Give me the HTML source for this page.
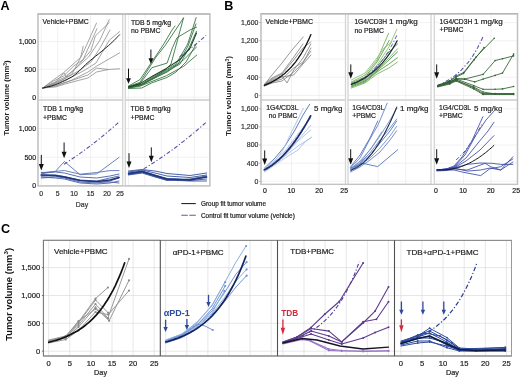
<!DOCTYPE html><html><head><meta charset="utf-8"><style>html,body{margin:0;padding:0;background:#fff;}svg{display:block;}</style></head><body>
<svg width="520" height="378" viewBox="0 0 520 378" font-family="'Liberation Sans', Arial, sans-serif">
<rect width="520" height="378" fill="#fff"/>
<text x="0.6" y="9.8" font-size="12.6" text-anchor="start" font-weight="bold" fill="#000" stroke="#000" stroke-width="0" >A</text>
<text x="224.2" y="9.7" font-size="12.6" text-anchor="start" font-weight="bold" fill="#000" stroke="#000" stroke-width="0" >B</text>
<text x="1.0" y="233.2" font-size="12.6" text-anchor="start" font-weight="bold" fill="#000" stroke="#000" stroke-width="0" >C</text>
<line x1="41.2" y1="14" x2="41.2" y2="100" stroke="#ebebeb" stroke-width="0.7"/>
<line x1="57.7" y1="14" x2="57.7" y2="100" stroke="#ebebeb" stroke-width="0.7"/>
<line x1="74.1" y1="14" x2="74.1" y2="100" stroke="#ebebeb" stroke-width="0.7"/>
<line x1="90.6" y1="14" x2="90.6" y2="100" stroke="#ebebeb" stroke-width="0.7"/>
<line x1="107.0" y1="14" x2="107.0" y2="100" stroke="#ebebeb" stroke-width="0.7"/>
<line x1="38" y1="97.2" x2="122.7" y2="97.2" stroke="#ebebeb" stroke-width="0.7"/>
<line x1="38" y1="69.3" x2="122.7" y2="69.3" stroke="#ebebeb" stroke-width="0.7"/>
<line x1="38" y1="41.5" x2="122.7" y2="41.5" stroke="#ebebeb" stroke-width="0.7"/>
<line x1="128.5" y1="14" x2="128.5" y2="100" stroke="#ebebeb" stroke-width="0.7"/>
<line x1="144.9" y1="14" x2="144.9" y2="100" stroke="#ebebeb" stroke-width="0.7"/>
<line x1="161.4" y1="14" x2="161.4" y2="100" stroke="#ebebeb" stroke-width="0.7"/>
<line x1="177.8" y1="14" x2="177.8" y2="100" stroke="#ebebeb" stroke-width="0.7"/>
<line x1="194.3" y1="14" x2="194.3" y2="100" stroke="#ebebeb" stroke-width="0.7"/>
<line x1="125.3" y1="97.2" x2="209.8" y2="97.2" stroke="#ebebeb" stroke-width="0.7"/>
<line x1="125.3" y1="69.3" x2="209.8" y2="69.3" stroke="#ebebeb" stroke-width="0.7"/>
<line x1="125.3" y1="41.5" x2="209.8" y2="41.5" stroke="#ebebeb" stroke-width="0.7"/>
<line x1="41.2" y1="100" x2="41.2" y2="185.9" stroke="#ebebeb" stroke-width="0.7"/>
<line x1="57.7" y1="100" x2="57.7" y2="185.9" stroke="#ebebeb" stroke-width="0.7"/>
<line x1="74.1" y1="100" x2="74.1" y2="185.9" stroke="#ebebeb" stroke-width="0.7"/>
<line x1="90.6" y1="100" x2="90.6" y2="185.9" stroke="#ebebeb" stroke-width="0.7"/>
<line x1="107.0" y1="100" x2="107.0" y2="185.9" stroke="#ebebeb" stroke-width="0.7"/>
<line x1="38" y1="157.2" x2="122.7" y2="157.2" stroke="#ebebeb" stroke-width="0.7"/>
<line x1="38" y1="128.5" x2="122.7" y2="128.5" stroke="#ebebeb" stroke-width="0.7"/>
<line x1="128.5" y1="100" x2="128.5" y2="185.9" stroke="#ebebeb" stroke-width="0.7"/>
<line x1="144.9" y1="100" x2="144.9" y2="185.9" stroke="#ebebeb" stroke-width="0.7"/>
<line x1="161.4" y1="100" x2="161.4" y2="185.9" stroke="#ebebeb" stroke-width="0.7"/>
<line x1="177.8" y1="100" x2="177.8" y2="185.9" stroke="#ebebeb" stroke-width="0.7"/>
<line x1="194.3" y1="100" x2="194.3" y2="185.9" stroke="#ebebeb" stroke-width="0.7"/>
<line x1="125.3" y1="157.2" x2="209.8" y2="157.2" stroke="#ebebeb" stroke-width="0.7"/>
<line x1="125.3" y1="128.5" x2="209.8" y2="128.5" stroke="#ebebeb" stroke-width="0.7"/>
<rect x="38" y="14" width="84.7" height="86" fill="none" stroke="#d4d4d4" stroke-width="1.3"/>
<rect x="125.3" y="14" width="84.50000000000001" height="86" fill="none" stroke="#d4d4d4" stroke-width="1.3"/>
<rect x="38" y="100" width="84.7" height="85.9" fill="none" stroke="#d4d4d4" stroke-width="1.3"/>
<rect x="125.3" y="100" width="84.50000000000001" height="85.9" fill="none" stroke="#d4d4d4" stroke-width="1.3"/>
<line x1="37.4" y1="14" x2="210.4" y2="14" stroke="#b4b4b4" stroke-width="1.4"/>
<line x1="38" y1="14" x2="38" y2="185.9" stroke="#c4c4c4" stroke-width="1.4"/>
<line x1="37.4" y1="185.9" x2="210.4" y2="185.9" stroke="#c4c4c4" stroke-width="1.4"/>
<line x1="209.8" y1="14" x2="209.8" y2="185.9" stroke="#c2c2c2" stroke-width="1.4"/>
<text x="36.0" y="99.60000000000001" font-size="6.9" text-anchor="end" font-weight="normal" fill="#222" stroke="#222" stroke-width="0.2" >0</text>
<text x="36.0" y="71.75" font-size="6.9" text-anchor="end" font-weight="normal" fill="#222" stroke="#222" stroke-width="0.2" >500</text>
<text x="36.0" y="43.9" font-size="6.9" text-anchor="end" font-weight="normal" fill="#222" stroke="#222" stroke-width="0.2" >1,000</text>
<text x="36.0" y="188.4" font-size="6.9" text-anchor="end" font-weight="normal" fill="#222" stroke="#222" stroke-width="0.2" >0</text>
<text x="36.0" y="159.65" font-size="6.9" text-anchor="end" font-weight="normal" fill="#222" stroke="#222" stroke-width="0.2" >500</text>
<text x="36.0" y="130.9" font-size="6.9" text-anchor="end" font-weight="normal" fill="#222" stroke="#222" stroke-width="0.2" >1,000</text>
<text x="41.2" y="196.2" font-size="6.9" text-anchor="middle" font-weight="normal" fill="#333" stroke="#333" stroke-width="0.2" >0</text>
<text x="57.650000000000006" y="196.2" font-size="6.9" text-anchor="middle" font-weight="normal" fill="#333" stroke="#333" stroke-width="0.2" >5</text>
<text x="74.1" y="196.2" font-size="6.9" text-anchor="middle" font-weight="normal" fill="#333" stroke="#333" stroke-width="0.2" >10</text>
<text x="90.55000000000001" y="196.2" font-size="6.9" text-anchor="middle" font-weight="normal" fill="#333" stroke="#333" stroke-width="0.2" >15</text>
<text x="107.0" y="196.2" font-size="6.9" text-anchor="middle" font-weight="normal" fill="#333" stroke="#333" stroke-width="0.2" >20</text>
<text x="120.0" y="196.2" font-size="6.9" text-anchor="middle" font-weight="normal" fill="#333" stroke="#333" stroke-width="0.2" >25</text>
<text x="82" y="206.6" font-size="6.9" text-anchor="middle" font-weight="normal" fill="#333" stroke="#333" stroke-width="0.2" >Day</text>
<text transform="translate(9.3,98) rotate(-90)" font-size="7.6" font-weight="bold" text-anchor="middle" fill="#222">Tumor volume (mm<tspan font-size="5" dy="-2.6">3</tspan><tspan dy="2.6">)</tspan></text>
<rect x="41.8" y="19.0" width="47.8" height="6.9" fill="#fff"/>
<text x="42.6" y="24.4" font-size="6.9" text-anchor="start" font-weight="normal" fill="#222" stroke="#222" stroke-width="0.2" >Vehicle+PBMC</text>
<rect x="130.1" y="19.2" width="41.9" height="6.9" fill="#fff"/>
<text x="130.9" y="24.6" font-size="6.9" text-anchor="start" font-weight="normal" fill="#222" stroke="#222" stroke-width="0.2" >TDB 5 mg/kg</text>
<rect x="130.1" y="27.2" width="31.1" height="6.9" fill="#fff"/>
<text x="130.9" y="32.6" font-size="6.9" text-anchor="start" font-weight="normal" fill="#222" stroke="#222" stroke-width="0.2" >no PBMC</text>
<rect x="42.2" y="105.4" width="41.9" height="6.9" fill="#fff"/>
<text x="43.0" y="110.8" font-size="6.9" text-anchor="start" font-weight="normal" fill="#222" stroke="#222" stroke-width="0.2" >TDB 1 mg/kg</text>
<rect x="42.2" y="114.8" width="25.6" height="6.9" fill="#fff"/>
<text x="43.0" y="120.2" font-size="6.9" text-anchor="start" font-weight="normal" fill="#222" stroke="#222" stroke-width="0.2" >+PBMC</text>
<rect x="129.7" y="105.4" width="41.9" height="6.9" fill="#fff"/>
<text x="130.5" y="110.8" font-size="6.9" text-anchor="start" font-weight="normal" fill="#222" stroke="#222" stroke-width="0.2" >TDB 5 mg/kg</text>
<rect x="129.7" y="114.4" width="25.6" height="6.9" fill="#fff"/>
<text x="130.5" y="119.8" font-size="6.9" text-anchor="start" font-weight="normal" fill="#222" stroke="#222" stroke-width="0.2" >+PBMC</text>
<polyline points="42.8,87.9 53.5,79.8 63.6,72.6 80.9,57.1 84.4,50.0 96.5,23.0" fill="none" stroke="#8e8e8e" stroke-width="0.8" stroke-linejoin="round" stroke-linecap="round" />
<polyline points="42.8,87.9 53.5,81.0 63.6,76.0 73.7,66.0 83.1,59.6 97.0,28.6" fill="none" stroke="#8e8e8e" stroke-width="0.8" stroke-linejoin="round" stroke-linecap="round" />
<polyline points="42.8,88.0 55.0,82.0 65.0,77.0 75.0,69.0 88.6,57.0 100.0,40.0 109.3,19.5" fill="none" stroke="#8e8e8e" stroke-width="0.8" stroke-linejoin="round" stroke-linecap="round" />
<polyline points="42.8,88.0 55.0,83.0 62.0,75.0 64.5,73.0 66.0,77.0 76.0,68.0 91.0,50.5 95.3,36.0 109.3,22.5" fill="none" stroke="#8e8e8e" stroke-width="0.8" stroke-linejoin="round" stroke-linecap="round" />
<polyline points="42.8,88.0 55.0,83.5 68.0,77.0 80.0,70.0 91.0,62.0 100.0,48.0 110.0,30.0" fill="none" stroke="#8e8e8e" stroke-width="0.8" stroke-linejoin="round" stroke-linecap="round" />
<polyline points="42.8,88.0 55.0,84.0 70.0,78.0 85.0,70.0 96.0,63.0 109.3,40.2 119.6,31.6" fill="none" stroke="#8e8e8e" stroke-width="0.8" stroke-linejoin="round" stroke-linecap="round" />
<polyline points="42.8,88.0 55.9,85.5 72.0,80.0 88.0,72.0 96.5,66.2 119.6,52.9" fill="none" stroke="#8e8e8e" stroke-width="0.8" stroke-linejoin="round" stroke-linecap="round" />
<polyline points="42.8,88.0 55.9,86.9 65.4,83.9 80.0,80.0 88.0,78.0 96.5,72.0 108.4,69.5 119.6,68.8" fill="none" stroke="#8e8e8e" stroke-width="0.8" stroke-linejoin="round" stroke-linecap="round" />
<polyline points="42.8,88.0 55.9,86.0 70.0,81.0 88.0,75.0 96.5,68.1 108.4,69.5" fill="none" stroke="#8e8e8e" stroke-width="0.8" stroke-linejoin="round" stroke-linecap="round" />
<polyline points="42.8,88.0 52.0,84.0 62.0,80.0 72.0,74.0 80.6,57.6 83.2,46.3" fill="none" stroke="#8e8e8e" stroke-width="0.8" stroke-linejoin="round" stroke-linecap="round" />
<polyline points="42.8,88.0 43.8,87.8 45.0,87.5 46.5,87.2 48.2,86.8 50.1,86.4 52.0,85.8 53.9,85.2 55.9,84.5 57.9,83.7 60.1,82.8 62.4,81.7 64.7,80.7 67.1,79.5 69.4,78.2 71.6,77.0 73.7,75.6 75.6,74.2 77.4,72.7 79.1,71.2 80.7,69.5 82.3,67.9 84.1,66.1 85.9,64.3 88.0,62.5 90.3,60.5 92.9,58.4 95.6,56.2 98.4,54.0 101.2,51.7 103.8,49.6 106.2,47.5 108.4,45.7 110.3,44.0 112.1,42.3 113.8,40.7 115.3,39.2 116.6,37.8 117.8,36.5 118.8,35.5 119.6,34.7" fill="none" stroke="#111" stroke-width="0.95" stroke-linejoin="round" stroke-linecap="round" />
<polyline points="179.5,56.9 180.2,56.4 180.8,55.9 181.5,55.4 182.2,54.9 182.8,54.4 183.5,53.9 184.2,53.4 184.8,52.9 185.5,52.4 186.2,51.9 186.8,51.3 187.5,50.8 188.2,50.3 188.8,49.8 189.5,49.3 190.2,48.7 190.8,48.2 191.5,47.7 192.2,47.1 192.8,46.6 193.5,46.1 194.2,45.5 194.8,45.0 195.5,44.4 196.2,43.9 196.8,43.3 197.5,42.8 198.1,42.2 198.8,41.7 199.5,41.1 200.1,40.6 200.8,40.0 201.5,39.4 202.1,38.9 202.8,38.3 203.5,37.7 204.1,37.2 204.8,36.6 205.5,36.0 206.1,35.4" fill="none" stroke="#5656a6" stroke-width="1.1" stroke-linejoin="round" stroke-linecap="butt" stroke-dasharray="4,2,1.2,2"/>
<polyline points="128.5,86.5 140.0,82.3 155.9,57.2 165.0,45.7 183.5,18.0" fill="none" stroke="#2f6f3c" stroke-width="0.85" stroke-linejoin="round" stroke-linecap="round" />
<polyline points="128.5,86.0 140.0,79.6 153.2,59.8 163.8,44.0 172.0,30.0 175.0,26.0" fill="none" stroke="#2f6f3c" stroke-width="0.85" stroke-linejoin="round" stroke-linecap="round" />
<polyline points="128.5,87.0 140.0,83.6 151.9,67.7 167.1,63.1 172.4,47.9 176.9,37.8 190.1,29.9 196.5,27.2" fill="none" stroke="#2f6f3c" stroke-width="0.85" stroke-linejoin="round" stroke-linecap="round" />
<polyline points="128.5,87.5 141.7,85.0 155.0,77.0 165.0,70.0 171.0,64.0 183.5,18.0" fill="none" stroke="#2f6f3c" stroke-width="0.85" stroke-linejoin="round" stroke-linecap="round" />
<polyline points="128.5,87.0 141.7,84.0 153.0,77.0 166.0,70.0 176.0,64.0 187.7,44.0 196.2,17.6" fill="none" stroke="#2f6f3c" stroke-width="0.85" stroke-linejoin="round" stroke-linecap="round" />
<polyline points="128.5,87.5 141.7,84.5 153.0,78.0 166.0,71.0 178.0,64.0 188.0,46.0 196.0,23.9" fill="none" stroke="#2f6f3c" stroke-width="0.85" stroke-linejoin="round" stroke-linecap="round" />
<polyline points="128.5,88.0 141.7,85.0 153.0,79.0 166.0,72.0 180.0,64.0 189.0,48.0 196.5,31.2" fill="none" stroke="#2f6f3c" stroke-width="0.85" stroke-linejoin="round" stroke-linecap="round" />
<polyline points="128.5,88.0 140.0,86.2 166.4,75.7 183.6,66.4 196.8,55.0" fill="none" stroke="#2f6f3c" stroke-width="0.85" stroke-linejoin="round" stroke-linecap="round" />
<polyline points="128.5,87.5 140.0,85.0 167.7,71.7 183.6,59.8 196.5,47.1" fill="none" stroke="#2f6f3c" stroke-width="0.85" stroke-linejoin="round" stroke-linecap="round" />
<polyline points="128.5,88.5 141.7,88.0 151.5,83.0 167.1,77.4 176.0,72.0 186.0,62.0 196.0,44.4" fill="none" stroke="#2f6f3c" stroke-width="0.85" stroke-linejoin="round" stroke-linecap="round" />
<polyline points="128.5,87.0 140.0,83.6 153.2,75.7 166.4,68.4 179.6,59.8 190.2,47.9 196.5,33.0" fill="none" stroke="#1d4424" stroke-width="1.1" stroke-linejoin="round" stroke-linecap="round" />
<line x1="128.5" y1="68.6" x2="128.5" y2="78.7" stroke="#111" stroke-width="1.0"/>
<polygon points="126.1,78.2 130.9,78.2 128.5,83.7" fill="#111"/>
<line x1="150.9" y1="49.5" x2="150.9" y2="58.8" stroke="#111" stroke-width="1.0"/>
<polygon points="148.5,58.3 153.3,58.3 150.9,63.8" fill="#111"/>
<polyline points="41.3,173.9 55.4,171.4 64.4,161.5 80.1,174.7 96.7,173.9 119.0,157.4" fill="none" stroke="#5a74b4" stroke-width="0.9" stroke-linejoin="round" stroke-linecap="round" />
<polyline points="41.3,173.0 55.4,171.4 64.4,170.5 80.1,174.2 96.7,172.5 109.9,170.6 119.0,170.6" fill="none" stroke="#5a74b4" stroke-width="0.9" stroke-linejoin="round" stroke-linecap="round" />
<polyline points="41.3,172.5 55.4,172.0 64.4,173.0 80.1,177.0 96.7,178.0 109.9,176.0 119.0,174.0" fill="none" stroke="#4862a8" stroke-width="0.9" stroke-linejoin="round" stroke-linecap="round" />
<polyline points="41.3,175.0 55.4,175.0 64.4,176.5 80.1,180.0 96.7,181.0 109.9,178.0 119.0,176.0" fill="none" stroke="#4862a8" stroke-width="0.9" stroke-linejoin="round" stroke-linecap="round" />
<polyline points="41.3,176.0 55.4,176.0 64.4,178.0 80.1,182.0 96.7,183.0 109.9,181.0 119.0,178.0" fill="none" stroke="#4862a8" stroke-width="0.9" stroke-linejoin="round" stroke-linecap="round" />
<polyline points="41.3,177.0 55.4,178.0 64.4,179.0 80.1,183.0 96.7,184.0 109.9,183.0 119.0,181.0" fill="none" stroke="#4862a8" stroke-width="0.9" stroke-linejoin="round" stroke-linecap="round" />
<polyline points="41.3,178.0 55.4,177.0 64.4,177.0 80.1,180.5 96.7,182.0 109.9,182.0 119.0,183.0" fill="none" stroke="#4862a8" stroke-width="0.9" stroke-linejoin="round" stroke-linecap="round" />
<polyline points="41.3,175.0 55.4,175.5 64.4,177.0 80.1,180.5 96.7,181.5 109.9,180.0 119.0,177.5" fill="none" stroke="#1f3577" stroke-width="1.7" stroke-linejoin="round" stroke-linecap="round" />
<polyline points="63.9,164.2 65.3,163.4 66.7,162.5 68.1,161.5 69.5,160.6 70.9,159.7 72.3,158.8 73.7,157.8 75.1,156.9 76.5,155.9 77.9,154.9 79.3,153.9 80.7,152.9 82.1,151.9 83.5,150.9 84.9,149.9 86.3,148.9 87.7,147.8 89.1,146.8 90.5,145.7 91.9,144.7 93.3,143.6 94.7,142.5 96.1,141.4 97.5,140.3 98.9,139.2 100.3,138.1 101.7,136.9 103.1,135.8 104.5,134.6 105.8,133.5 107.2,132.3 108.6,131.1 110.0,129.9 111.4,128.8 112.8,127.5 114.2,126.3 115.6,125.1 117.0,123.9 118.4,122.6 119.8,121.4" fill="none" stroke="#5656a6" stroke-width="1.1" stroke-linejoin="round" stroke-linecap="butt" stroke-dasharray="4,2,1.2,2"/>
<line x1="41.3" y1="154.9" x2="41.3" y2="164.6" stroke="#111" stroke-width="1.0"/>
<polygon points="38.8,164.1 43.8,164.1 41.3,170.6" fill="#111"/>
<line x1="64.1" y1="142.5" x2="64.1" y2="152.2" stroke="#111" stroke-width="1.0"/>
<polygon points="61.599999999999994,151.7 66.6,151.7 64.1,158.2" fill="#111"/>
<polyline points="128.5,171.0 142.2,169.5 155.0,171.0 167.0,173.5 190.0,175.5 206.6,173.0" fill="none" stroke="#3550a0" stroke-width="0.9" stroke-linejoin="round" stroke-linecap="round" />
<polyline points="128.5,172.0 142.2,170.0 155.0,173.0 167.0,176.0 190.0,177.5 206.6,175.0" fill="none" stroke="#3550a0" stroke-width="0.9" stroke-linejoin="round" stroke-linecap="round" />
<polyline points="128.5,173.0 142.2,171.0 155.0,175.0 167.0,178.5 190.0,179.5 206.6,177.0" fill="none" stroke="#3550a0" stroke-width="0.9" stroke-linejoin="round" stroke-linecap="round" />
<polyline points="128.5,174.0 142.2,172.0 155.0,176.0 167.0,179.5 190.0,180.5 206.6,179.0" fill="none" stroke="#3550a0" stroke-width="0.9" stroke-linejoin="round" stroke-linecap="round" />
<polyline points="128.5,175.0 142.2,173.0 155.0,177.0 167.0,180.0 190.0,181.0 206.6,181.0" fill="none" stroke="#3550a0" stroke-width="0.9" stroke-linejoin="round" stroke-linecap="round" />
<polyline points="128.5,174.5 142.2,172.5 155.0,176.5 167.0,180.5 190.0,179.0 206.6,176.0" fill="none" stroke="#3550a0" stroke-width="0.9" stroke-linejoin="round" stroke-linecap="round" />
<polyline points="128.5,173.5 142.2,171.5 155.0,175.5 167.0,179.0 190.0,180.0 206.6,177.0" fill="none" stroke="#1f3577" stroke-width="1.6" stroke-linejoin="round" stroke-linecap="round" />
<polyline points="143.6,168.9 145.2,167.9 146.8,167.0 148.4,166.0 150.0,165.0 151.5,164.0 153.1,163.0 154.7,162.0 156.3,161.0 157.8,159.9 159.4,158.9 161.0,157.8 162.6,156.7 164.2,155.6 165.7,154.5 167.3,153.4 168.9,152.3 170.5,151.2 172.1,150.0 173.6,148.8 175.2,147.7 176.8,146.5 178.4,145.3 180.0,144.1 181.5,142.8 183.1,141.6 184.7,140.4 186.3,139.1 187.9,137.8 189.4,136.6 191.0,135.3 192.6,134.0 194.2,132.6 195.7,131.3 197.3,130.0 198.9,128.6 200.5,127.2 202.1,125.9 203.6,124.5 205.2,123.1 206.8,121.7" fill="none" stroke="#5656a6" stroke-width="1.1" stroke-linejoin="round" stroke-linecap="butt" stroke-dasharray="4,2,1.2,2"/>
<line x1="129.0" y1="153.2" x2="129.0" y2="162.1" stroke="#111" stroke-width="1.0"/>
<polygon points="126.5,161.6 131.5,161.6 129.0,168.1" fill="#111"/>
<line x1="151.3" y1="147.4" x2="151.3" y2="156.3" stroke="#111" stroke-width="1.0"/>
<polygon points="148.8,155.8 153.8,155.8 151.3,162.3" fill="#111"/>
<line x1="291.5" y1="13.8" x2="291.5" y2="100" stroke="#ebebeb" stroke-width="0.7"/>
<line x1="319.0" y1="13.8" x2="319.0" y2="100" stroke="#ebebeb" stroke-width="0.7"/>
<line x1="261" y1="95.4" x2="345.5" y2="95.4" stroke="#ebebeb" stroke-width="0.7"/>
<line x1="261" y1="77.2" x2="345.5" y2="77.2" stroke="#ebebeb" stroke-width="0.7"/>
<line x1="261" y1="59.0" x2="345.5" y2="59.0" stroke="#ebebeb" stroke-width="0.7"/>
<line x1="261" y1="40.8" x2="345.5" y2="40.8" stroke="#ebebeb" stroke-width="0.7"/>
<line x1="261" y1="22.6" x2="345.5" y2="22.6" stroke="#ebebeb" stroke-width="0.7"/>
<line x1="378.2" y1="13.8" x2="378.2" y2="100" stroke="#ebebeb" stroke-width="0.7"/>
<line x1="405.7" y1="13.8" x2="405.7" y2="100" stroke="#ebebeb" stroke-width="0.7"/>
<line x1="348" y1="95.4" x2="431" y2="95.4" stroke="#ebebeb" stroke-width="0.7"/>
<line x1="348" y1="77.2" x2="431" y2="77.2" stroke="#ebebeb" stroke-width="0.7"/>
<line x1="348" y1="59.0" x2="431" y2="59.0" stroke="#ebebeb" stroke-width="0.7"/>
<line x1="348" y1="40.8" x2="431" y2="40.8" stroke="#ebebeb" stroke-width="0.7"/>
<line x1="348" y1="22.6" x2="431" y2="22.6" stroke="#ebebeb" stroke-width="0.7"/>
<line x1="463.5" y1="13.8" x2="463.5" y2="100" stroke="#ebebeb" stroke-width="0.7"/>
<line x1="491.0" y1="13.8" x2="491.0" y2="100" stroke="#ebebeb" stroke-width="0.7"/>
<line x1="434.3" y1="95.4" x2="517.5" y2="95.4" stroke="#ebebeb" stroke-width="0.7"/>
<line x1="434.3" y1="77.2" x2="517.5" y2="77.2" stroke="#ebebeb" stroke-width="0.7"/>
<line x1="434.3" y1="59.0" x2="517.5" y2="59.0" stroke="#ebebeb" stroke-width="0.7"/>
<line x1="434.3" y1="40.8" x2="517.5" y2="40.8" stroke="#ebebeb" stroke-width="0.7"/>
<line x1="434.3" y1="22.6" x2="517.5" y2="22.6" stroke="#ebebeb" stroke-width="0.7"/>
<line x1="291.5" y1="100" x2="291.5" y2="184.4" stroke="#ebebeb" stroke-width="0.7"/>
<line x1="319.0" y1="100" x2="319.0" y2="184.4" stroke="#ebebeb" stroke-width="0.7"/>
<line x1="261" y1="181.3" x2="345.5" y2="181.3" stroke="#ebebeb" stroke-width="0.7"/>
<line x1="261" y1="163.2" x2="345.5" y2="163.2" stroke="#ebebeb" stroke-width="0.7"/>
<line x1="261" y1="145.1" x2="345.5" y2="145.1" stroke="#ebebeb" stroke-width="0.7"/>
<line x1="261" y1="126.9" x2="345.5" y2="126.9" stroke="#ebebeb" stroke-width="0.7"/>
<line x1="261" y1="108.8" x2="345.5" y2="108.8" stroke="#ebebeb" stroke-width="0.7"/>
<line x1="378.2" y1="100" x2="378.2" y2="184.4" stroke="#ebebeb" stroke-width="0.7"/>
<line x1="405.7" y1="100" x2="405.7" y2="184.4" stroke="#ebebeb" stroke-width="0.7"/>
<line x1="348" y1="181.3" x2="431" y2="181.3" stroke="#ebebeb" stroke-width="0.7"/>
<line x1="348" y1="163.2" x2="431" y2="163.2" stroke="#ebebeb" stroke-width="0.7"/>
<line x1="348" y1="145.1" x2="431" y2="145.1" stroke="#ebebeb" stroke-width="0.7"/>
<line x1="348" y1="126.9" x2="431" y2="126.9" stroke="#ebebeb" stroke-width="0.7"/>
<line x1="348" y1="108.8" x2="431" y2="108.8" stroke="#ebebeb" stroke-width="0.7"/>
<line x1="463.5" y1="100" x2="463.5" y2="184.4" stroke="#ebebeb" stroke-width="0.7"/>
<line x1="491.0" y1="100" x2="491.0" y2="184.4" stroke="#ebebeb" stroke-width="0.7"/>
<line x1="434.3" y1="181.3" x2="517.5" y2="181.3" stroke="#ebebeb" stroke-width="0.7"/>
<line x1="434.3" y1="163.2" x2="517.5" y2="163.2" stroke="#ebebeb" stroke-width="0.7"/>
<line x1="434.3" y1="145.1" x2="517.5" y2="145.1" stroke="#ebebeb" stroke-width="0.7"/>
<line x1="434.3" y1="126.9" x2="517.5" y2="126.9" stroke="#ebebeb" stroke-width="0.7"/>
<line x1="434.3" y1="108.8" x2="517.5" y2="108.8" stroke="#ebebeb" stroke-width="0.7"/>
<rect x="261" y="13.8" width="84.5" height="86.2" fill="none" stroke="#d4d4d4" stroke-width="1.3"/>
<rect x="348" y="13.8" width="83" height="86.2" fill="none" stroke="#d4d4d4" stroke-width="1.3"/>
<rect x="434.3" y="13.8" width="83.19999999999999" height="86.2" fill="none" stroke="#d4d4d4" stroke-width="1.3"/>
<rect x="261" y="100" width="84.5" height="84.4" fill="none" stroke="#d4d4d4" stroke-width="1.3"/>
<rect x="348" y="100" width="83" height="84.4" fill="none" stroke="#d4d4d4" stroke-width="1.3"/>
<rect x="434.3" y="100" width="83.19999999999999" height="84.4" fill="none" stroke="#d4d4d4" stroke-width="1.3"/>
<line x1="260.4" y1="13.8" x2="518.1" y2="13.8" stroke="#b4b4b4" stroke-width="1.4"/>
<line x1="261" y1="13.8" x2="261" y2="184.4" stroke="#c4c4c4" stroke-width="1.4"/>
<line x1="260.4" y1="184.4" x2="518.1" y2="184.4" stroke="#c4c4c4" stroke-width="1.4"/>
<line x1="517.5" y1="13.8" x2="517.5" y2="184.4" stroke="#c2c2c2" stroke-width="1.4"/>
<text x="258.3" y="97.80000000000001" font-size="6.9" text-anchor="end" font-weight="normal" fill="#333" stroke="#333" stroke-width="0.2" >0</text>
<line x1="259" y1="95.4" x2="261" y2="95.4" stroke="#999" stroke-width="0.6"/>
<text x="258.3" y="79.60000000000001" font-size="6.9" text-anchor="end" font-weight="normal" fill="#333" stroke="#333" stroke-width="0.2" >400</text>
<line x1="259" y1="77.2" x2="261" y2="77.2" stroke="#999" stroke-width="0.6"/>
<text x="258.3" y="61.400000000000006" font-size="6.9" text-anchor="end" font-weight="normal" fill="#333" stroke="#333" stroke-width="0.2" >800</text>
<line x1="259" y1="59.0" x2="261" y2="59.0" stroke="#999" stroke-width="0.6"/>
<text x="258.3" y="43.2" font-size="6.9" text-anchor="end" font-weight="normal" fill="#333" stroke="#333" stroke-width="0.2" >1,200</text>
<line x1="259" y1="40.8" x2="261" y2="40.8" stroke="#999" stroke-width="0.6"/>
<text x="258.3" y="25.000000000000007" font-size="6.9" text-anchor="end" font-weight="normal" fill="#333" stroke="#333" stroke-width="0.2" >1,600</text>
<line x1="259" y1="22.6" x2="261" y2="22.6" stroke="#999" stroke-width="0.6"/>
<text x="258.3" y="183.70000000000002" font-size="6.9" text-anchor="end" font-weight="normal" fill="#333" stroke="#333" stroke-width="0.2" >0</text>
<line x1="259" y1="181.3" x2="261" y2="181.3" stroke="#999" stroke-width="0.6"/>
<text x="258.3" y="165.58" font-size="6.9" text-anchor="end" font-weight="normal" fill="#333" stroke="#333" stroke-width="0.2" >400</text>
<line x1="259" y1="163.2" x2="261" y2="163.2" stroke="#999" stroke-width="0.6"/>
<text x="258.3" y="147.46" font-size="6.9" text-anchor="end" font-weight="normal" fill="#333" stroke="#333" stroke-width="0.2" >800</text>
<line x1="259" y1="145.1" x2="261" y2="145.1" stroke="#999" stroke-width="0.6"/>
<text x="258.3" y="129.34" font-size="6.9" text-anchor="end" font-weight="normal" fill="#333" stroke="#333" stroke-width="0.2" >1,200</text>
<line x1="259" y1="126.9" x2="261" y2="126.9" stroke="#999" stroke-width="0.6"/>
<text x="258.3" y="111.22000000000001" font-size="6.9" text-anchor="end" font-weight="normal" fill="#333" stroke="#333" stroke-width="0.2" >1,600</text>
<line x1="259" y1="108.8" x2="261" y2="108.8" stroke="#999" stroke-width="0.6"/>
<text x="264.8" y="193.3" font-size="6.9" text-anchor="middle" font-weight="normal" fill="#222" stroke="#222" stroke-width="0.2" >0</text>
<text x="291.3" y="193.3" font-size="6.9" text-anchor="middle" font-weight="normal" fill="#222" stroke="#222" stroke-width="0.2" >10</text>
<text x="319.2" y="193.3" font-size="6.9" text-anchor="middle" font-weight="normal" fill="#222" stroke="#222" stroke-width="0.2" >20</text>
<text x="344.2" y="193.3" font-size="6.9" text-anchor="middle" font-weight="normal" fill="#222" stroke="#222" stroke-width="0.2" >25</text>
<text x="436.0" y="193.3" font-size="6.9" text-anchor="middle" font-weight="normal" fill="#222" stroke="#222" stroke-width="0.2" >0</text>
<text x="463.0" y="193.3" font-size="6.9" text-anchor="middle" font-weight="normal" fill="#222" stroke="#222" stroke-width="0.2" >10</text>
<text x="490.8" y="193.3" font-size="6.9" text-anchor="middle" font-weight="normal" fill="#222" stroke="#222" stroke-width="0.2" >20</text>
<text x="516.2" y="193.3" font-size="6.9" text-anchor="middle" font-weight="normal" fill="#222" stroke="#222" stroke-width="0.2" >25</text>
<text transform="translate(231.4,96) rotate(-90)" font-size="8.1" font-weight="bold" text-anchor="middle" fill="#222">Tumor volume (mm<tspan font-size="5" dy="-2.6">3</tspan><tspan dy="2.6">)</tspan></text>
<rect x="264.8" y="18.5" width="49.2" height="7.1" fill="#fff"/>
<text x="265.6" y="24.0" font-size="7.1" text-anchor="start" font-weight="normal" fill="#222" stroke="#222" stroke-width="0.2" >Vehicle+PBMC</text>
<rect x="353.6" y="18.7" width="65.0" height="6.7" fill="#fff"/>
<text x="354.4" y="23.9" font-size="6.7" text-anchor="start" font-weight="normal" fill="#222" stroke="#222" stroke-width="0.2" >1G4/CD3H <tspan font-size="8.1">1 mg/kg</tspan></text>
<rect x="353.6" y="27.1" width="31.1" height="6.9" fill="#fff"/>
<text x="354.4" y="32.5" font-size="6.9" text-anchor="start" font-weight="normal" fill="#222" stroke="#222" stroke-width="0.2" >no PBMC</text>
<rect x="438.7" y="18.7" width="65.0" height="6.7" fill="#fff"/>
<text x="439.5" y="23.9" font-size="6.7" text-anchor="start" font-weight="normal" fill="#222" stroke="#222" stroke-width="0.2" >1G4/CD3H <tspan font-size="8.1">1 mg/kg</tspan></text>
<rect x="438.7" y="26.8" width="25.6" height="6.9" fill="#fff"/>
<text x="439.5" y="32.2" font-size="6.9" text-anchor="start" font-weight="normal" fill="#222" stroke="#222" stroke-width="0.2" >+PBMC</text>
<rect x="265.5" y="105.1" width="33.7" height="6.8" fill="#fff"/>
<text x="266.3" y="110.4" font-size="6.8" text-anchor="start" font-weight="normal" fill="#222" stroke="#222" stroke-width="0.2" >1G4/CD3L</text>
<rect x="267.9" y="113.2" width="30.3" height="6.7" fill="#fff"/>
<text x="268.7" y="118.4" font-size="6.7" text-anchor="start" font-weight="normal" fill="#222" stroke="#222" stroke-width="0.2" >no PBMC</text>
<rect x="313.2" y="104.6" width="30.1" height="8.0" fill="#fff"/>
<text x="314" y="110.8" font-size="8.0" text-anchor="start" font-weight="normal" fill="#222" stroke="#222" stroke-width="0.2" >5 mg/kg</text>
<rect x="351.5" y="105.1" width="33.7" height="6.8" fill="#fff"/>
<text x="352.3" y="110.4" font-size="6.8" text-anchor="start" font-weight="normal" fill="#222" stroke="#222" stroke-width="0.2" >1G4/CD3L</text>
<rect x="351.5" y="113.1" width="25.2" height="6.8" fill="#fff"/>
<text x="352.3" y="118.4" font-size="6.8" text-anchor="start" font-weight="normal" fill="#222" stroke="#222" stroke-width="0.2" >+PBMC</text>
<rect x="399.2" y="104.6" width="30.1" height="8.0" fill="#fff"/>
<text x="400" y="110.8" font-size="8.0" text-anchor="start" font-weight="normal" fill="#222" stroke="#222" stroke-width="0.2" >1 mg/kg</text>
<rect x="438.2" y="105.1" width="33.7" height="6.8" fill="#fff"/>
<text x="439" y="110.4" font-size="6.8" text-anchor="start" font-weight="normal" fill="#222" stroke="#222" stroke-width="0.2" >1G4/CD3L</text>
<rect x="473.2" y="104.6" width="30.1" height="8.0" fill="#fff"/>
<text x="474" y="110.8" font-size="8.0" text-anchor="start" font-weight="normal" fill="#222" stroke="#222" stroke-width="0.2" >5 mg/kg</text>
<rect x="438.2" y="113.1" width="25.2" height="6.8" fill="#fff"/>
<text x="439" y="118.4" font-size="6.8" text-anchor="start" font-weight="normal" fill="#222" stroke="#222" stroke-width="0.2" >+PBMC</text>
<polyline points="264.5,84.5 272.0,75.0 282.0,63.0 292.0,50.0 303.2,37.0" fill="none" stroke="#7e7e7e" stroke-width="0.8" stroke-linejoin="round" stroke-linecap="round" />
<polyline points="264.5,85.0 272.0,79.0 282.0,74.0 293.7,60.0 303.0,48.0 310.9,41.8" fill="none" stroke="#7e7e7e" stroke-width="0.8" stroke-linejoin="round" stroke-linecap="round" />
<polyline points="264.5,85.5 272.0,80.0 282.0,76.0 287.0,83.0 293.7,70.0 303.0,58.0 310.9,44.0" fill="none" stroke="#7e7e7e" stroke-width="0.8" stroke-linejoin="round" stroke-linecap="round" />
<polyline points="264.5,86.0 272.0,82.0 282.0,79.0 293.7,68.0 303.0,62.0 310.9,51.3" fill="none" stroke="#7e7e7e" stroke-width="0.8" stroke-linejoin="round" stroke-linecap="round" />
<polyline points="264.5,84.0 272.0,78.0 282.0,73.0 293.7,57.2 303.0,44.0" fill="none" stroke="#7e7e7e" stroke-width="0.8" stroke-linejoin="round" stroke-linecap="round" />
<polyline points="264.5,85.0 272.0,81.0 282.0,77.0 293.7,75.0 303.0,64.0 310.9,55.0" fill="none" stroke="#7e7e7e" stroke-width="0.8" stroke-linejoin="round" stroke-linecap="round" />
<polyline points="264.5,86.0 272.0,83.0 282.0,81.0 293.7,72.0 303.0,63.0 310.9,48.0" fill="none" stroke="#7e7e7e" stroke-width="0.8" stroke-linejoin="round" stroke-linecap="round" />
<polyline points="264.3,85.4 265.5,84.9 266.6,84.4 267.8,83.9 269.0,83.4 270.1,82.9 271.3,82.3 272.5,81.7 273.6,81.0 274.8,80.4 275.9,79.7 277.1,79.0 278.3,78.2 279.4,77.4 280.6,76.6 281.8,75.7 282.9,74.8 284.1,73.9 285.3,72.9 286.4,71.8 287.6,70.7 288.8,69.6 289.9,68.4 291.1,67.2 292.3,65.9 293.4,64.5 294.6,63.1 295.8,61.6 296.9,60.0 298.1,58.4 299.2,56.7 300.4,54.9 301.6,53.0 302.7,51.1 303.9,49.0 305.1,46.9 306.2,44.7 307.4,42.3 308.6,39.9 309.7,37.3 310.9,34.6" fill="none" stroke="#111" stroke-width="1.3" stroke-linejoin="round" stroke-linecap="round" />
<polyline points="351.3,82.0 365.0,75.0 377.0,60.0 388.6,33.3" fill="none" stroke="#76b65e" stroke-width="0.9" stroke-linejoin="round" stroke-linecap="round" />
<polyline points="351.3,83.0 365.0,77.0 377.0,62.0 389.2,40.5" fill="none" stroke="#5c9e48" stroke-width="0.9" stroke-linejoin="round" stroke-linecap="round" />
<polyline points="351.3,84.0 365.0,78.0 377.0,65.0 388.9,47.0 396.9,29.2" fill="none" stroke="#8cc474" stroke-width="0.9" stroke-linejoin="round" stroke-linecap="round" />
<polyline points="351.3,85.0 365.0,80.0 377.0,70.0 388.9,58.0 397.5,48.8" fill="none" stroke="#76b65e" stroke-width="0.9" stroke-linejoin="round" stroke-linecap="round" />
<polyline points="351.3,87.0 365.0,82.0 377.0,72.0 388.9,64.0 397.5,57.7" fill="none" stroke="#5c9e48" stroke-width="0.9" stroke-linejoin="round" stroke-linecap="round" />
<polyline points="351.3,80.0 365.0,73.0 377.0,58.0 384.0,48.0 392.0,42.0" fill="none" stroke="#8cc474" stroke-width="0.9" stroke-linejoin="round" stroke-linecap="round" />
<polyline points="351.3,88.0 365.0,83.0 377.0,74.0 388.9,68.0 397.5,62.0" fill="none" stroke="#76b65e" stroke-width="0.9" stroke-linejoin="round" stroke-linecap="round" />
<polyline points="351.3,84.0 365.0,79.0 377.0,67.0 388.9,52.0 397.5,44.0" fill="none" stroke="#3c7a3c" stroke-width="0.8" stroke-linejoin="round" stroke-linecap="round" />
<polyline points="351.3,86.0 365.0,81.0 377.0,71.0 388.9,60.0 397.5,52.0" fill="none" stroke="#3c7a3c" stroke-width="0.8" stroke-linejoin="round" stroke-linecap="round" />
<polyline points="351.3,84.0 352.4,83.5 353.6,83.0 354.7,82.5 355.8,82.0 357.0,81.4 358.1,80.8 359.3,80.2 360.4,79.5 361.5,78.9 362.7,78.2 363.8,77.4 364.9,76.7 366.1,75.9 367.2,75.0 368.4,74.2 369.5,73.3 370.6,72.3 371.8,71.4 372.9,70.3 374.0,69.3 375.2,68.2 376.3,67.0 377.4,65.8 378.6,64.6 379.7,63.2 380.9,61.9 382.0,60.5 383.1,59.0 384.3,57.4 385.4,55.8 386.5,54.1 387.7,52.4 388.8,50.6 390.0,48.7 391.1,46.7 392.2,44.6 393.4,42.5 394.5,40.2 395.6,37.9 396.8,35.4" fill="none" stroke="#5656a6" stroke-width="1.0" stroke-linejoin="round" stroke-linecap="butt" stroke-dasharray="4,2,1.2,2"/>
<polyline points="351.3,84.5 352.4,84.0 353.6,83.6 354.7,83.1 355.9,82.6 357.0,82.1 358.2,81.5 359.3,80.9 360.5,80.3 361.6,79.7 362.7,79.1 363.9,78.4 365.0,77.7 366.2,77.0 367.3,76.2 368.5,75.4 369.6,74.6 370.7,73.8 371.9,72.9 373.0,72.0 374.2,71.0 375.3,70.0 376.5,69.0 377.6,67.9 378.8,66.8 379.9,65.6 381.0,64.4 382.2,63.1 383.3,61.8 384.5,60.4 385.6,58.9 386.8,57.5 387.9,55.9 389.0,54.3 390.2,52.6 391.3,50.8 392.5,49.0 393.6,47.1 394.8,45.1 395.9,43.1 397.1,40.9" fill="none" stroke="#1c2636" stroke-width="1.2" stroke-linejoin="round" stroke-linecap="round" />
<line x1="350.8" y1="64.4" x2="350.8" y2="72.7" stroke="#111" stroke-width="1.0"/>
<polygon points="348.3,72.2 353.3,72.2 350.8,78.7" fill="#111"/>
<polyline points="437.3,85.4 438.5,84.9 439.6,84.5 440.8,84.0 441.9,83.4 443.1,82.9 444.2,82.3 445.4,81.7 446.5,81.1 447.7,80.5 448.8,79.8 450.0,79.1 451.1,78.3 452.3,77.5 453.4,76.7 454.6,75.9 455.7,75.0 456.9,74.1 458.0,73.1 459.2,72.1 460.3,71.0 461.5,69.9 462.6,68.7 463.8,67.5 464.9,66.2 466.1,64.9 467.2,63.5 468.4,62.1 469.5,60.6 470.7,59.0 471.8,57.3 473.0,55.6 474.1,53.8 475.3,51.9 476.4,49.9 477.6,47.8 478.7,45.6 479.9,43.4 481.0,41.0 482.2,38.5 483.3,35.9" fill="none" stroke="#5656a6" stroke-width="1.1" stroke-linejoin="round" stroke-linecap="butt" stroke-dasharray="4,2,1.2,2"/>
<polyline points="437.7,85.5 449.7,81.0 456.2,77.0 463.6,73.5 474.0,60.0 484.0,47.6" fill="none" stroke="#2f5f2f" stroke-width="0.85" stroke-linejoin="round" stroke-linecap="round" />
<circle cx="449.7" cy="81.0" r="0.8" fill="#2f5f2f"/>
<circle cx="456.2" cy="77.0" r="0.8" fill="#2f5f2f"/>
<circle cx="463.6" cy="73.5" r="0.8" fill="#2f5f2f"/>
<circle cx="474.0" cy="60.0" r="0.8" fill="#2f5f2f"/>
<circle cx="484.0" cy="47.6" r="0.8" fill="#2f5f2f"/>
<polyline points="437.7,85.5 449.7,81.0 456.2,76.0 463.6,72.5 476.0,57.0 494.2,38.3" fill="none" stroke="#2f5f2f" stroke-width="0.85" stroke-linejoin="round" stroke-linecap="round" />
<circle cx="449.7" cy="81.0" r="0.8" fill="#2f5f2f"/>
<circle cx="456.2" cy="76.0" r="0.8" fill="#2f5f2f"/>
<circle cx="463.6" cy="72.5" r="0.8" fill="#2f5f2f"/>
<circle cx="476.0" cy="57.0" r="0.8" fill="#2f5f2f"/>
<circle cx="494.2" cy="38.3" r="0.8" fill="#2f5f2f"/>
<polyline points="437.7,86.0 449.7,82.0 456.2,79.0 464.6,79.1 474.7,81.9 483.1,79.1 495.1,75.4 502.5,73.0 513.6,54.1" fill="none" stroke="#2f5f2f" stroke-width="0.85" stroke-linejoin="round" stroke-linecap="round" />
<circle cx="449.7" cy="82.0" r="0.8" fill="#2f5f2f"/>
<circle cx="456.2" cy="79.0" r="0.8" fill="#2f5f2f"/>
<circle cx="464.6" cy="79.1" r="0.8" fill="#2f5f2f"/>
<circle cx="474.7" cy="81.9" r="0.8" fill="#2f5f2f"/>
<circle cx="483.1" cy="79.1" r="0.8" fill="#2f5f2f"/>
<circle cx="495.1" cy="75.4" r="0.8" fill="#2f5f2f"/>
<circle cx="502.5" cy="73.0" r="0.8" fill="#2f5f2f"/>
<circle cx="513.6" cy="54.1" r="0.8" fill="#2f5f2f"/>
<polyline points="437.7,86.0 449.7,82.0 456.2,78.5 464.6,79.1 483.1,74.4 495.1,60.6 502.5,58.7 513.6,55.9" fill="none" stroke="#2f5f2f" stroke-width="0.85" stroke-linejoin="round" stroke-linecap="round" />
<circle cx="449.7" cy="82.0" r="0.8" fill="#2f5f2f"/>
<circle cx="456.2" cy="78.5" r="0.8" fill="#2f5f2f"/>
<circle cx="464.6" cy="79.1" r="0.8" fill="#2f5f2f"/>
<circle cx="483.1" cy="74.4" r="0.8" fill="#2f5f2f"/>
<circle cx="495.1" cy="60.6" r="0.8" fill="#2f5f2f"/>
<circle cx="502.5" cy="58.7" r="0.8" fill="#2f5f2f"/>
<circle cx="513.6" cy="55.9" r="0.8" fill="#2f5f2f"/>
<polyline points="437.7,86.0 449.7,83.0 456.2,79.0 473.8,85.6 483.0,89.3 495.1,89.3 502.5,88.9 513.6,86.5" fill="none" stroke="#2f5f2f" stroke-width="0.85" stroke-linejoin="round" stroke-linecap="round" />
<circle cx="449.7" cy="83.0" r="0.8" fill="#2f5f2f"/>
<circle cx="456.2" cy="79.0" r="0.8" fill="#2f5f2f"/>
<circle cx="473.8" cy="85.6" r="0.8" fill="#2f5f2f"/>
<circle cx="483.0" cy="89.3" r="0.8" fill="#2f5f2f"/>
<circle cx="495.1" cy="89.3" r="0.8" fill="#2f5f2f"/>
<circle cx="502.5" cy="88.9" r="0.8" fill="#2f5f2f"/>
<circle cx="513.6" cy="86.5" r="0.8" fill="#2f5f2f"/>
<polyline points="437.7,86.5 449.7,83.5 456.2,80.0 473.8,88.0 483.0,93.5 495.1,93.5 513.6,93.5" fill="none" stroke="#2f5f2f" stroke-width="0.85" stroke-linejoin="round" stroke-linecap="round" />
<circle cx="449.7" cy="83.5" r="0.8" fill="#2f5f2f"/>
<circle cx="456.2" cy="80.0" r="0.8" fill="#2f5f2f"/>
<circle cx="473.8" cy="88.0" r="0.8" fill="#2f5f2f"/>
<circle cx="483.0" cy="93.5" r="0.8" fill="#2f5f2f"/>
<circle cx="495.1" cy="93.5" r="0.8" fill="#2f5f2f"/>
<circle cx="513.6" cy="93.5" r="0.8" fill="#2f5f2f"/>
<polyline points="437.7,87.0 449.7,84.0 456.2,81.0 473.8,89.0 483.0,94.5 513.6,94.5" fill="none" stroke="#2f5f2f" stroke-width="0.85" stroke-linejoin="round" stroke-linecap="round" />
<circle cx="449.7" cy="84.0" r="0.8" fill="#2f5f2f"/>
<circle cx="456.2" cy="81.0" r="0.8" fill="#2f5f2f"/>
<circle cx="473.8" cy="89.0" r="0.8" fill="#2f5f2f"/>
<circle cx="483.0" cy="94.5" r="0.8" fill="#2f5f2f"/>
<circle cx="513.6" cy="94.5" r="0.8" fill="#2f5f2f"/>
<polyline points="437.7,86.0 449.7,82.0 456.2,80.5 473.8,87.0 483.0,92.0 495.1,94.0 513.6,94.0" fill="none" stroke="#2f5f2f" stroke-width="0.85" stroke-linejoin="round" stroke-linecap="round" />
<circle cx="449.7" cy="82.0" r="0.8" fill="#2f5f2f"/>
<circle cx="456.2" cy="80.5" r="0.8" fill="#2f5f2f"/>
<circle cx="473.8" cy="87.0" r="0.8" fill="#2f5f2f"/>
<circle cx="483.0" cy="92.0" r="0.8" fill="#2f5f2f"/>
<circle cx="495.1" cy="94.0" r="0.8" fill="#2f5f2f"/>
<circle cx="513.6" cy="94.0" r="0.8" fill="#2f5f2f"/>
<line x1="436.7" y1="64.4" x2="436.7" y2="72.7" stroke="#111" stroke-width="1.0"/>
<polygon points="434.2,72.2 439.2,72.2 436.7,78.7" fill="#111"/>
<polyline points="264.5,168.0 275.0,158.0 285.0,146.0 295.0,130.0 303.0,115.0 309.7,104.2" fill="none" stroke="#4f6fc0" stroke-width="0.9" stroke-linejoin="round" stroke-linecap="round" />
<polyline points="264.5,170.0 275.0,161.0 283.0,150.0 291.7,131.7 303.3,108.5" fill="none" stroke="#a9c1e6" stroke-width="0.9" stroke-linejoin="round" stroke-linecap="round" />
<polyline points="264.5,170.0 285.0,154.0 298.0,140.0 310.7,125.4" fill="none" stroke="#a9c1e6" stroke-width="0.9" stroke-linejoin="round" stroke-linecap="round" />
<polyline points="264.5,171.0 285.0,156.0 298.0,146.0 310.7,138.0" fill="none" stroke="#a9c1e6" stroke-width="0.9" stroke-linejoin="round" stroke-linecap="round" />
<polyline points="264.5,172.0 285.0,158.0 298.0,150.0 305.0,142.0 311.8,137.0" fill="none" stroke="#a9c1e6" stroke-width="0.9" stroke-linejoin="round" stroke-linecap="round" />
<polyline points="264.5,169.0 285.0,151.0 298.0,134.0 310.7,118.0" fill="none" stroke="#a9c1e6" stroke-width="0.9" stroke-linejoin="round" stroke-linecap="round" />
<polyline points="264.5,171.0 285.0,155.0 298.0,141.0 310.7,130.0" fill="none" stroke="#a9c1e6" stroke-width="0.9" stroke-linejoin="round" stroke-linecap="round" />
<polyline points="264.3,169.8 265.5,169.2 266.6,168.6 267.8,167.9 268.9,167.2 270.1,166.5 271.2,165.7 272.4,164.9 273.6,164.0 274.7,163.1 275.9,162.2 277.0,161.2 278.2,160.2 279.4,159.2 280.5,158.1 281.7,156.9 282.8,155.8 284.0,154.5 285.1,153.3 286.3,152.0 287.5,150.7 288.6,149.3 289.8,147.9 290.9,146.5 292.1,145.0 293.2,143.5 294.4,141.9 295.6,140.3 296.7,138.6 297.9,137.0 299.0,135.3 300.2,133.5 301.4,131.7 302.5,129.9 303.7,128.0 304.8,126.1 306.0,124.1 307.1,122.1 308.3,120.1 309.5,118.0 310.6,115.9" fill="none" stroke="#1c2c6c" stroke-width="1.8" stroke-linejoin="round" stroke-linecap="round" />
<line x1="264.7" y1="150.4" x2="264.7" y2="159.1" stroke="#111" stroke-width="1.0"/>
<polygon points="262.2,158.6 267.2,158.6 264.7,165.1" fill="#111"/>
<polyline points="350.5,168.0 360.0,158.0 369.3,140.2 378.0,125.0 387.2,103.2" fill="none" stroke="#5b7cc4" stroke-width="0.85" stroke-linejoin="round" stroke-linecap="round" />
<polyline points="350.5,167.0 360.0,155.0 370.0,138.0 377.7,121.1" fill="none" stroke="#4a6bb8" stroke-width="0.85" stroke-linejoin="round" stroke-linecap="round" />
<polyline points="350.5,169.0 360.0,161.0 370.0,150.0 380.0,136.0 390.0,120.0 396.7,108.5" fill="none" stroke="#6f8fd0" stroke-width="0.85" stroke-linejoin="round" stroke-linecap="round" />
<polyline points="350.5,170.0 360.0,163.0 370.0,153.0 380.0,140.0 390.0,128.0 396.7,119.0" fill="none" stroke="#5b7cc4" stroke-width="0.85" stroke-linejoin="round" stroke-linecap="round" />
<polyline points="350.5,171.0 360.0,164.0 370.0,155.0 380.0,143.0 390.0,131.0 396.7,121.1" fill="none" stroke="#4a6bb8" stroke-width="0.85" stroke-linejoin="round" stroke-linecap="round" />
<polyline points="350.5,170.0 360.0,165.0 370.0,158.0 380.0,148.0 390.0,136.0 396.7,126.4" fill="none" stroke="#6f8fd0" stroke-width="0.85" stroke-linejoin="round" stroke-linecap="round" />
<polyline points="350.5,172.0 360.0,167.0 370.0,160.0 380.0,152.0 390.0,140.0 396.7,130.7" fill="none" stroke="#5b7cc4" stroke-width="0.85" stroke-linejoin="round" stroke-linecap="round" />
<polyline points="350.5,168.0 362.9,163.4 377.7,166.6 397.8,149.7" fill="none" stroke="#4a6bb8" stroke-width="0.85" stroke-linejoin="round" stroke-linecap="round" />
<polyline points="350.5,169.0 362.0,160.0 372.0,147.0 381.9,131.7" fill="none" stroke="#6f8fd0" stroke-width="0.85" stroke-linejoin="round" stroke-linecap="round" />
<polyline points="351.3,170.0 352.4,169.6 353.6,169.1 354.7,168.6 355.8,168.0 357.0,167.4 358.1,166.7 359.3,165.9 360.4,165.1 361.5,164.2 362.7,163.3 363.8,162.3 364.9,161.2 366.1,160.1 367.2,158.9 368.4,157.7 369.5,156.4 370.6,155.0 371.8,153.6 372.9,152.1 374.0,150.6 375.2,149.0 376.3,147.3 377.4,145.6 378.6,143.8 379.7,141.9 380.9,140.0 382.0,138.1 383.1,136.0 384.3,134.0 385.4,131.8 386.5,129.6 387.7,127.3 388.8,125.0 390.0,122.6 391.1,120.2 392.2,117.7 393.4,115.1 394.5,112.5 395.6,109.8 396.8,107.1" fill="none" stroke="#1e2a4a" stroke-width="1.1" stroke-linejoin="round" stroke-linecap="round" />
<line x1="350.7" y1="149.2" x2="350.7" y2="158.7" stroke="#111" stroke-width="1.0"/>
<polygon points="348.2,158.2 353.2,158.2 350.7,164.7" fill="#111"/>
<polyline points="437.0,170.0 446.0,169.0 454.0,167.0 465.0,155.0 476.0,135.0 486.0,120.0 494.0,111.1" fill="none" stroke="#3a4aa8" stroke-width="0.85" stroke-linejoin="round" stroke-linecap="round" />
<polyline points="437.0,170.0 446.0,169.0 454.0,166.0 462.0,157.0 471.8,141.0 482.9,116.7" fill="none" stroke="#3a4aa8" stroke-width="0.85" stroke-linejoin="round" stroke-linecap="round" />
<polyline points="437.0,170.0 446.0,169.0 454.0,167.5 466.0,158.0 478.0,143.0 488.0,131.0 494.0,122.2" fill="none" stroke="#3a4aa8" stroke-width="0.85" stroke-linejoin="round" stroke-linecap="round" />
<polyline points="437.0,170.0 446.0,169.5 454.0,168.0 466.0,161.0 480.0,150.0 494.0,135.6" fill="none" stroke="#3a4aa8" stroke-width="0.85" stroke-linejoin="round" stroke-linecap="round" />
<polyline points="437.0,170.0 446.0,169.5 454.0,168.0 467.3,171.1 480.7,170.0 490.0,168.0 500.7,170.0 512.9,156.7" fill="none" stroke="#3a4aa8" stroke-width="0.85" stroke-linejoin="round" stroke-linecap="round" />
<polyline points="437.0,170.0 446.0,169.5 454.0,168.0 467.3,164.4 480.0,163.0 491.8,163.3 500.7,164.4 512.9,164.4" fill="none" stroke="#3a4aa8" stroke-width="0.85" stroke-linejoin="round" stroke-linecap="round" />
<polyline points="437.0,170.5 446.0,170.0 454.0,170.0 462.9,172.2 480.7,175.6 489.6,168.9 500.7,166.7 512.9,158.9" fill="none" stroke="#3a4aa8" stroke-width="0.85" stroke-linejoin="round" stroke-linecap="round" />
<polyline points="437.0,171.0 446.0,170.5 454.0,169.0 467.3,170.0 485.1,163.3 490.7,166.7 500.7,170.0 512.9,162.0" fill="none" stroke="#3a4aa8" stroke-width="0.85" stroke-linejoin="round" stroke-linecap="round" />
<polyline points="456.2,160.0 466.0,150.0 474.0,138.0 481.8,124.4" fill="none" stroke="#5656a6" stroke-width="1.0" stroke-linejoin="round" stroke-linecap="butt" stroke-dasharray="4,2,1.2,2"/>
<polyline points="437.3,169.7 438.7,169.8 440.1,169.9 441.5,169.9 443.0,169.9 444.4,169.9 445.8,169.8 447.2,169.7 448.6,169.5 450.0,169.3 451.5,169.1 452.9,168.8 454.3,168.5 455.7,168.2 457.1,167.8 458.5,167.4 460.0,167.0 461.4,166.5 462.8,166.0 464.2,165.4 465.6,164.8 467.0,164.2 468.5,163.5 469.9,162.8 471.3,162.1 472.7,161.3 474.1,160.5 475.5,159.7 476.9,158.8 478.4,157.9 479.8,156.9 481.2,155.9 482.6,154.9 484.0,153.8 485.4,152.8 486.9,151.6 488.3,150.4 489.7,149.2 491.1,148.0 492.5,146.7 493.9,145.4" fill="none" stroke="#111" stroke-width="1.0" stroke-linejoin="round" stroke-linecap="round" />
<line x1="436.7" y1="149.2" x2="436.7" y2="158.7" stroke="#111" stroke-width="1.0"/>
<polygon points="434.2,158.2 439.2,158.2 436.7,164.7" fill="#111"/>
<line x1="181.3" y1="203.6" x2="195.8" y2="203.6" stroke="#111" stroke-width="1"/>
<line x1="181.3" y1="215.2" x2="195.8" y2="215.2" stroke="#5c5ca8" stroke-width="1.1" stroke-dasharray="6.5,1.5"/>
<text x="201" y="206.2" font-size="6.4" text-anchor="start" font-weight="normal" fill="#222" stroke="#222" stroke-width="0.2" >Group fit tumor volume</text>
<text x="201" y="217.8" font-size="6.4" text-anchor="start" font-weight="normal" fill="#222" stroke="#222" stroke-width="0.2" >Control fit tumor volume (vehicle)</text>
<line x1="48.7" y1="240.3" x2="48.7" y2="356" stroke="#dcdcdc" stroke-width="0.7"/>
<line x1="69.8" y1="240.3" x2="69.8" y2="356" stroke="#dcdcdc" stroke-width="0.7"/>
<line x1="90.9" y1="240.3" x2="90.9" y2="356" stroke="#dcdcdc" stroke-width="0.7"/>
<line x1="112.0" y1="240.3" x2="112.0" y2="356" stroke="#dcdcdc" stroke-width="0.7"/>
<line x1="133.1" y1="240.3" x2="133.1" y2="356" stroke="#dcdcdc" stroke-width="0.7"/>
<line x1="154.2" y1="240.3" x2="154.2" y2="356" stroke="#dcdcdc" stroke-width="0.7"/>
<line x1="43.4" y1="351.2" x2="160" y2="351.2" stroke="#dcdcdc" stroke-width="0.7"/>
<line x1="43.4" y1="323.3" x2="160" y2="323.3" stroke="#dcdcdc" stroke-width="0.7"/>
<line x1="43.4" y1="295.5" x2="160" y2="295.5" stroke="#dcdcdc" stroke-width="0.7"/>
<line x1="43.4" y1="267.6" x2="160" y2="267.6" stroke="#dcdcdc" stroke-width="0.7"/>
<line x1="165.7" y1="240.3" x2="165.7" y2="356" stroke="#dcdcdc" stroke-width="0.7"/>
<line x1="186.8" y1="240.3" x2="186.8" y2="356" stroke="#dcdcdc" stroke-width="0.7"/>
<line x1="207.9" y1="240.3" x2="207.9" y2="356" stroke="#dcdcdc" stroke-width="0.7"/>
<line x1="229.0" y1="240.3" x2="229.0" y2="356" stroke="#dcdcdc" stroke-width="0.7"/>
<line x1="250.1" y1="240.3" x2="250.1" y2="356" stroke="#dcdcdc" stroke-width="0.7"/>
<line x1="271.2" y1="240.3" x2="271.2" y2="356" stroke="#dcdcdc" stroke-width="0.7"/>
<line x1="160" y1="351.2" x2="277.5" y2="351.2" stroke="#dcdcdc" stroke-width="0.7"/>
<line x1="160" y1="323.3" x2="277.5" y2="323.3" stroke="#dcdcdc" stroke-width="0.7"/>
<line x1="160" y1="295.5" x2="277.5" y2="295.5" stroke="#dcdcdc" stroke-width="0.7"/>
<line x1="160" y1="267.6" x2="277.5" y2="267.6" stroke="#dcdcdc" stroke-width="0.7"/>
<line x1="282.9" y1="240.3" x2="282.9" y2="356" stroke="#dcdcdc" stroke-width="0.7"/>
<line x1="304.0" y1="240.3" x2="304.0" y2="356" stroke="#dcdcdc" stroke-width="0.7"/>
<line x1="325.1" y1="240.3" x2="325.1" y2="356" stroke="#dcdcdc" stroke-width="0.7"/>
<line x1="346.2" y1="240.3" x2="346.2" y2="356" stroke="#dcdcdc" stroke-width="0.7"/>
<line x1="367.3" y1="240.3" x2="367.3" y2="356" stroke="#dcdcdc" stroke-width="0.7"/>
<line x1="388.4" y1="240.3" x2="388.4" y2="356" stroke="#dcdcdc" stroke-width="0.7"/>
<line x1="277.5" y1="351.2" x2="394.5" y2="351.2" stroke="#dcdcdc" stroke-width="0.7"/>
<line x1="277.5" y1="323.3" x2="394.5" y2="323.3" stroke="#dcdcdc" stroke-width="0.7"/>
<line x1="277.5" y1="295.5" x2="394.5" y2="295.5" stroke="#dcdcdc" stroke-width="0.7"/>
<line x1="277.5" y1="267.6" x2="394.5" y2="267.6" stroke="#dcdcdc" stroke-width="0.7"/>
<line x1="400.9" y1="240.3" x2="400.9" y2="356" stroke="#dcdcdc" stroke-width="0.7"/>
<line x1="422.0" y1="240.3" x2="422.0" y2="356" stroke="#dcdcdc" stroke-width="0.7"/>
<line x1="443.1" y1="240.3" x2="443.1" y2="356" stroke="#dcdcdc" stroke-width="0.7"/>
<line x1="464.2" y1="240.3" x2="464.2" y2="356" stroke="#dcdcdc" stroke-width="0.7"/>
<line x1="485.3" y1="240.3" x2="485.3" y2="356" stroke="#dcdcdc" stroke-width="0.7"/>
<line x1="506.4" y1="240.3" x2="506.4" y2="356" stroke="#dcdcdc" stroke-width="0.7"/>
<line x1="394.5" y1="351.2" x2="511.5" y2="351.2" stroke="#dcdcdc" stroke-width="0.7"/>
<line x1="394.5" y1="323.3" x2="511.5" y2="323.3" stroke="#dcdcdc" stroke-width="0.7"/>
<line x1="394.5" y1="295.5" x2="511.5" y2="295.5" stroke="#dcdcdc" stroke-width="0.7"/>
<line x1="394.5" y1="267.6" x2="511.5" y2="267.6" stroke="#dcdcdc" stroke-width="0.7"/>
<rect x="43.4" y="240.3" width="468.1" height="115.7" fill="none" stroke="#6a6a6a" stroke-width="0.9"/>
<line x1="43" y1="356" x2="511.9" y2="356" stroke="#959595" stroke-width="1.0"/>
<line x1="511.5" y1="240.3" x2="511.5" y2="356" stroke="#9a9a9a" stroke-width="1.0"/>
<line x1="43.4" y1="240.3" x2="160" y2="240.3" stroke="#8a8a8a" stroke-width="0.9"/>
<line x1="43.4" y1="240.3" x2="43.4" y2="356" stroke="#7a7a7a" stroke-width="0.9"/>
<line x1="160.3" y1="240.3" x2="160.3" y2="356" stroke="#505050" stroke-width="1.1"/>
<line x1="277.5" y1="240.3" x2="277.5" y2="356" stroke="#505050" stroke-width="1.1"/>
<line x1="394.5" y1="240.3" x2="394.5" y2="356" stroke="#505050" stroke-width="1.1"/>
<text x="40.2" y="353.9" font-size="7.6" text-anchor="end" font-weight="normal" fill="#222" stroke="#222" stroke-width="0.2" >0</text>
<line x1="41.9" y1="351.2" x2="43.4" y2="351.2" stroke="#555" stroke-width="0.8"/>
<text x="40.2" y="326.04999999999995" font-size="7.6" text-anchor="end" font-weight="normal" fill="#222" stroke="#222" stroke-width="0.2" >500</text>
<line x1="41.9" y1="323.3" x2="43.4" y2="323.3" stroke="#555" stroke-width="0.8"/>
<text x="40.2" y="298.2" font-size="7.6" text-anchor="end" font-weight="normal" fill="#222" stroke="#222" stroke-width="0.2" >1,000</text>
<line x1="41.9" y1="295.5" x2="43.4" y2="295.5" stroke="#555" stroke-width="0.8"/>
<text x="40.2" y="270.34999999999997" font-size="7.6" text-anchor="end" font-weight="normal" fill="#222" stroke="#222" stroke-width="0.2" >1,500</text>
<line x1="41.9" y1="267.6" x2="43.4" y2="267.6" stroke="#555" stroke-width="0.8"/>
<text x="48.7" y="365.5" font-size="7.6" text-anchor="middle" font-weight="normal" fill="#222" stroke="#222" stroke-width="0.2" >0</text>
<text x="69.8" y="365.5" font-size="7.6" text-anchor="middle" font-weight="normal" fill="#222" stroke="#222" stroke-width="0.2" >5</text>
<text x="90.9" y="365.5" font-size="7.6" text-anchor="middle" font-weight="normal" fill="#222" stroke="#222" stroke-width="0.2" >10</text>
<text x="112.0" y="365.5" font-size="7.6" text-anchor="middle" font-weight="normal" fill="#222" stroke="#222" stroke-width="0.2" >15</text>
<text x="133.1" y="365.5" font-size="7.6" text-anchor="middle" font-weight="normal" fill="#222" stroke="#222" stroke-width="0.2" >20</text>
<text x="154.2" y="365.5" font-size="7.6" text-anchor="middle" font-weight="normal" fill="#222" stroke="#222" stroke-width="0.2" >25</text>
<text x="400.9" y="365.5" font-size="7.6" text-anchor="middle" font-weight="normal" fill="#222" stroke="#222" stroke-width="0.2" >0</text>
<text x="422.0" y="365.5" font-size="7.6" text-anchor="middle" font-weight="normal" fill="#222" stroke="#222" stroke-width="0.2" >5</text>
<text x="443.09999999999997" y="365.5" font-size="7.6" text-anchor="middle" font-weight="normal" fill="#222" stroke="#222" stroke-width="0.2" >10</text>
<text x="464.2" y="365.5" font-size="7.6" text-anchor="middle" font-weight="normal" fill="#222" stroke="#222" stroke-width="0.2" >15</text>
<text x="485.29999999999995" y="365.5" font-size="7.6" text-anchor="middle" font-weight="normal" fill="#222" stroke="#222" stroke-width="0.2" >20</text>
<text x="506.4" y="365.5" font-size="7.6" text-anchor="middle" font-weight="normal" fill="#222" stroke="#222" stroke-width="0.2" >25</text>
<text x="100.6" y="374.6" font-size="7.3" text-anchor="middle" font-weight="normal" fill="#222" stroke="#222" stroke-width="0.2" >Day</text>
<text x="452.5" y="375.4" font-size="7.3" text-anchor="middle" font-weight="normal" fill="#222" stroke="#222" stroke-width="0.2" >Day</text>
<text transform="translate(11.6,294.4) rotate(-90)" font-size="9.4" font-weight="bold" text-anchor="middle" fill="#111">Tumor volume (mm<tspan font-size="6.2" dy="-3.2">3</tspan><tspan dy="3.2">)</tspan></text>
<text x="54" y="253.6" font-size="8.0" text-anchor="start" font-weight="normal" fill="#222" stroke="#222" stroke-width="0.2" >Vehicle+PBMC</text>
<text x="172.7" y="254.9" font-size="8.0" text-anchor="start" font-weight="normal" fill="#222" stroke="#222" stroke-width="0.2" textLength="51" lengthAdjust="spacingAndGlyphs">&#945;PD-1+PBMC</text>
<text x="290.3" y="254.4" font-size="8.0" text-anchor="start" font-weight="normal" fill="#222" stroke="#222" stroke-width="0.2" >TDB+PBMC</text>
<text x="406.5" y="255.3" font-size="8.0" text-anchor="start" font-weight="normal" fill="#222" stroke="#222" stroke-width="0.2" textLength="72" lengthAdjust="spacingAndGlyphs">TDB+&#945;PD-1+PBMC</text>
<polyline points="48.7,340.0 65.7,336.0 78.5,322.0 95.5,298.6 107.9,287.5" fill="none" stroke="#999999" stroke-width="1.0" stroke-linejoin="round" stroke-linecap="round" />
<circle cx="65.7" cy="336.0" r="1.1" fill="#8a8a8a"/>
<circle cx="78.5" cy="322.0" r="1.1" fill="#8a8a8a"/>
<circle cx="95.5" cy="298.6" r="1.1" fill="#8a8a8a"/>
<circle cx="107.9" cy="287.5" r="1.1" fill="#8a8a8a"/>
<polyline points="48.7,341.0 65.7,337.0 78.5,325.0 95.5,304.0 107.9,318.0 129.0,258.9" fill="none" stroke="#999999" stroke-width="1.0" stroke-linejoin="round" stroke-linecap="round" />
<circle cx="65.7" cy="337.0" r="1.1" fill="#8a8a8a"/>
<circle cx="78.5" cy="325.0" r="1.1" fill="#8a8a8a"/>
<circle cx="95.5" cy="304.0" r="1.1" fill="#8a8a8a"/>
<circle cx="107.9" cy="318.0" r="1.1" fill="#8a8a8a"/>
<circle cx="129.0" cy="258.9" r="1.1" fill="#8a8a8a"/>
<polyline points="48.7,342.0 65.7,338.0 78.5,327.0 95.5,307.3 109.1,320.8 129.0,280.3" fill="none" stroke="#999999" stroke-width="1.0" stroke-linejoin="round" stroke-linecap="round" />
<circle cx="65.7" cy="338.0" r="1.1" fill="#8a8a8a"/>
<circle cx="78.5" cy="327.0" r="1.1" fill="#8a8a8a"/>
<circle cx="95.5" cy="307.3" r="1.1" fill="#8a8a8a"/>
<circle cx="109.1" cy="320.8" r="1.1" fill="#8a8a8a"/>
<circle cx="129.0" cy="280.3" r="1.1" fill="#8a8a8a"/>
<polyline points="48.7,343.0 65.7,339.5 78.5,330.4 95.5,312.0 108.2,314.6 129.0,290.6" fill="none" stroke="#999999" stroke-width="1.0" stroke-linejoin="round" stroke-linecap="round" />
<circle cx="65.7" cy="339.5" r="1.1" fill="#8a8a8a"/>
<circle cx="78.5" cy="330.4" r="1.1" fill="#8a8a8a"/>
<circle cx="95.5" cy="312.0" r="1.1" fill="#8a8a8a"/>
<circle cx="108.2" cy="314.6" r="1.1" fill="#8a8a8a"/>
<circle cx="129.0" cy="290.6" r="1.1" fill="#8a8a8a"/>
<polyline points="48.7,341.5 65.7,337.5 78.5,323.0 95.5,300.0 108.2,312.8" fill="none" stroke="#999999" stroke-width="1.0" stroke-linejoin="round" stroke-linecap="round" />
<circle cx="65.7" cy="337.5" r="1.1" fill="#8a8a8a"/>
<circle cx="78.5" cy="323.0" r="1.1" fill="#8a8a8a"/>
<circle cx="95.5" cy="300.0" r="1.1" fill="#8a8a8a"/>
<circle cx="108.2" cy="312.8" r="1.1" fill="#8a8a8a"/>
<polyline points="48.7,340.5 65.7,336.5 78.5,321.0 95.5,309.0 108.2,318.5" fill="none" stroke="#999999" stroke-width="1.0" stroke-linejoin="round" stroke-linecap="round" />
<circle cx="65.7" cy="336.5" r="1.1" fill="#8a8a8a"/>
<circle cx="78.5" cy="321.0" r="1.1" fill="#8a8a8a"/>
<circle cx="95.5" cy="309.0" r="1.1" fill="#8a8a8a"/>
<circle cx="108.2" cy="318.5" r="1.1" fill="#8a8a8a"/>
<polyline points="48.7,342.3 50.6,341.8 52.5,341.3 54.4,340.8 56.3,340.2 58.2,339.6 60.1,339.0 62.0,338.3 63.9,337.5 65.8,336.8 67.7,335.9 69.6,335.1 71.5,334.1 73.4,333.1 75.3,332.1 77.2,331.0 79.1,329.8 81.0,328.5 82.9,327.2 84.8,325.8 86.7,324.2 88.6,322.6 90.5,320.9 92.4,319.1 94.3,317.1 96.2,315.1 98.1,312.9 100.0,310.6 101.9,308.1 103.8,305.4 105.7,302.6 107.6,299.7 109.5,296.5 111.4,293.1 113.3,289.6 115.2,285.8 117.1,281.7 119.0,277.4 120.9,272.9 122.8,268.0 124.7,262.8" fill="none" stroke="#111" stroke-width="1.7" stroke-linejoin="round" stroke-linecap="round" />
<polyline points="165.7,340.0 182.0,334.0 197.0,322.0 212.0,306.0 225.0,282.0 236.0,262.0 246.1,246.0" fill="none" stroke="#8db0e2" stroke-width="1.0" stroke-linejoin="round" stroke-linecap="round" />
<circle cx="246.1" cy="246.0" r="1.1" fill="#7195d6"/>
<polyline points="165.7,341.0 182.0,335.5 197.0,325.0 212.0,311.0 225.0,292.0 236.0,274.0 246.6,262.2" fill="none" stroke="#7195d6" stroke-width="1.0" stroke-linejoin="round" stroke-linecap="round" />
<circle cx="246.6" cy="262.2" r="1.1" fill="#7195d6"/>
<polyline points="165.7,342.0 182.0,336.5 197.0,327.0 212.0,314.0 225.0,297.0 236.0,281.0 246.6,269.4" fill="none" stroke="#8db0e2" stroke-width="1.0" stroke-linejoin="round" stroke-linecap="round" />
<circle cx="246.6" cy="269.4" r="1.1" fill="#7195d6"/>
<polyline points="165.7,343.0 182.0,337.5 197.0,329.0 212.0,317.0 225.0,301.0 236.0,287.0 246.6,275.7" fill="none" stroke="#7195d6" stroke-width="1.0" stroke-linejoin="round" stroke-linecap="round" />
<circle cx="246.6" cy="275.7" r="1.1" fill="#7195d6"/>
<polyline points="165.7,340.5 182.0,334.0 197.0,323.0 212.0,305.0 225.2,282.1" fill="none" stroke="#8db0e2" stroke-width="1.0" stroke-linejoin="round" stroke-linecap="round" />
<circle cx="225.2" cy="282.1" r="1.1" fill="#7195d6"/>
<polyline points="165.7,341.5 182.0,335.0 197.0,325.0 212.0,309.0 225.2,286.0" fill="none" stroke="#7195d6" stroke-width="1.0" stroke-linejoin="round" stroke-linecap="round" />
<circle cx="225.2" cy="286.0" r="1.1" fill="#7195d6"/>
<polyline points="165.7,342.5 182.0,336.0 197.0,326.0 212.0,313.0 224.4,290.8" fill="none" stroke="#8db0e2" stroke-width="1.0" stroke-linejoin="round" stroke-linecap="round" />
<circle cx="224.4" cy="290.8" r="1.1" fill="#7195d6"/>
<polyline points="165.7,341.0 182.0,335.0 197.0,324.0 205.0,326.0 212.8,330.0" fill="none" stroke="#7195d6" stroke-width="1.0" stroke-linejoin="round" stroke-linecap="round" />
<circle cx="212.8" cy="330.0" r="1.1" fill="#7195d6"/>
<polyline points="165.7,342.0 167.7,341.5 169.7,340.9 171.7,340.2 173.7,339.6 175.7,338.9 177.7,338.2 179.7,337.4 181.7,336.5 183.7,335.7 185.7,334.7 187.7,333.7 189.8,332.7 191.8,331.6 193.8,330.4 195.8,329.1 197.8,327.8 199.8,326.4 201.8,324.9 203.8,323.3 205.8,321.6 207.8,319.9 209.8,318.0 211.8,316.0 213.8,313.8 215.8,311.6 217.8,309.2 219.8,306.7 221.8,304.0 223.8,301.2 225.8,298.2 227.8,295.0 229.8,291.6 231.8,288.0 233.9,284.2 235.9,280.2 237.9,275.9 239.9,271.4 241.9,266.6 243.9,261.5 245.9,256.1" fill="none" stroke="#16245e" stroke-width="1.7" stroke-linejoin="round" stroke-linecap="round" />
<line x1="165.6" y1="319.8" x2="165.6" y2="327.4" stroke="#2c4a9e" stroke-width="1.3"/>
<polygon points="163.4,326.9 167.79999999999998,326.9 165.6,331.9" fill="#2c4a9e"/>
<line x1="186.9" y1="318.9" x2="186.9" y2="325.5" stroke="#2c4a9e" stroke-width="1.3"/>
<polygon points="184.70000000000002,325.0 189.1,325.0 186.9,330.0" fill="#2c4a9e"/>
<line x1="208.5" y1="294.8" x2="208.5" y2="302.4" stroke="#2c4a9e" stroke-width="1.3"/>
<polygon points="206.3,301.9 210.7,301.9 208.5,306.9" fill="#2c4a9e"/>
<text x="163.7" y="316.2" font-size="8.3" text-anchor="start" font-weight="bold" fill="#2c4a9e" stroke="#2c4a9e" stroke-width="0" textLength="26" lengthAdjust="spacingAndGlyphs">&#945;PD-1</text>
<polyline points="282.9,342.3 284.8,341.8 286.7,341.3 288.6,340.8 290.5,340.2 292.4,339.6 294.4,338.9 296.3,338.2 298.2,337.5 300.1,336.7 302.0,335.9 303.9,335.0 305.8,334.1 307.7,333.1 309.6,332.0 311.5,330.9 313.5,329.7 315.4,328.4 317.3,327.0 319.2,325.6 321.1,324.1 323.0,322.4 324.9,320.7 326.8,318.8 328.7,316.9 330.6,314.8 332.5,312.6 334.5,310.2 336.4,307.7 338.3,305.0 340.2,302.2 342.1,299.1 344.0,295.9 345.9,292.5 347.8,288.9 349.7,285.0 351.6,280.9 353.6,276.5 355.5,271.9 357.4,266.9 359.3,261.7" fill="none" stroke="#4a3a9a" stroke-width="1.1" stroke-linejoin="round" stroke-linecap="butt" stroke-dasharray="4,2,1.2,2"/>
<polyline points="282.9,342.0 297.0,337.0 311.1,327.4 325.0,314.0 339.3,301.5 363.1,263.0" fill="none" stroke="#5e3c8c" stroke-width="1.1" stroke-linejoin="round" stroke-linecap="round" />
<circle cx="297.0" cy="337.0" r="1.0" fill="#5e3c8c"/>
<circle cx="311.1" cy="327.4" r="1.0" fill="#5e3c8c"/>
<circle cx="325.0" cy="314.0" r="1.0" fill="#5e3c8c"/>
<circle cx="339.3" cy="301.5" r="1.0" fill="#5e3c8c"/>
<circle cx="363.1" cy="263.0" r="1.0" fill="#5e3c8c"/>
<polyline points="282.9,342.0 297.0,337.0 311.1,328.5 328.9,331.1 341.7,341.9 363.1,321.8 376.4,319.2 388.5,301.8" fill="none" stroke="#5e3c8c" stroke-width="1.1" stroke-linejoin="round" stroke-linecap="round" />
<circle cx="297.0" cy="337.0" r="1.0" fill="#5e3c8c"/>
<circle cx="311.1" cy="328.5" r="1.0" fill="#5e3c8c"/>
<circle cx="328.9" cy="331.1" r="1.0" fill="#5e3c8c"/>
<circle cx="341.7" cy="341.9" r="1.0" fill="#5e3c8c"/>
<circle cx="363.1" cy="321.8" r="1.0" fill="#5e3c8c"/>
<circle cx="376.4" cy="319.2" r="1.0" fill="#5e3c8c"/>
<circle cx="388.5" cy="301.8" r="1.0" fill="#5e3c8c"/>
<polyline points="282.9,342.5 297.0,338.0 311.1,331.0 328.9,336.0 341.7,341.9 363.1,323.0 375.1,311.1 388.5,287.1" fill="none" stroke="#5e3c8c" stroke-width="1.1" stroke-linejoin="round" stroke-linecap="round" />
<circle cx="297.0" cy="338.0" r="1.0" fill="#5e3c8c"/>
<circle cx="311.1" cy="331.0" r="1.0" fill="#5e3c8c"/>
<circle cx="328.9" cy="336.0" r="1.0" fill="#5e3c8c"/>
<circle cx="341.7" cy="341.9" r="1.0" fill="#5e3c8c"/>
<circle cx="363.1" cy="323.0" r="1.0" fill="#5e3c8c"/>
<circle cx="375.1" cy="311.1" r="1.0" fill="#5e3c8c"/>
<circle cx="388.5" cy="287.1" r="1.0" fill="#5e3c8c"/>
<polyline points="282.9,343.0 297.0,338.5 311.1,334.0 328.9,340.0 341.7,344.0 363.1,338.0 375.1,332.5 388.5,327.2" fill="none" stroke="#5e3c8c" stroke-width="1.1" stroke-linejoin="round" stroke-linecap="round" />
<circle cx="297.0" cy="338.5" r="1.0" fill="#5e3c8c"/>
<circle cx="311.1" cy="334.0" r="1.0" fill="#5e3c8c"/>
<circle cx="328.9" cy="340.0" r="1.0" fill="#5e3c8c"/>
<circle cx="341.7" cy="344.0" r="1.0" fill="#5e3c8c"/>
<circle cx="363.1" cy="338.0" r="1.0" fill="#5e3c8c"/>
<circle cx="375.1" cy="332.5" r="1.0" fill="#5e3c8c"/>
<circle cx="388.5" cy="327.2" r="1.0" fill="#5e3c8c"/>
<polyline points="282.9,343.5 302.2,338.5 308.1,340.0 328.9,350.4 341.7,351.0 363.1,351.0 388.5,350.7" fill="none" stroke="#9a78c8" stroke-width="1.1" stroke-linejoin="round" stroke-linecap="round" />
<circle cx="302.2" cy="338.5" r="1.0" fill="#9a78c8"/>
<circle cx="308.1" cy="340.0" r="1.0" fill="#9a78c8"/>
<circle cx="328.9" cy="350.4" r="1.0" fill="#9a78c8"/>
<circle cx="341.7" cy="351.0" r="1.0" fill="#9a78c8"/>
<circle cx="363.1" cy="351.0" r="1.0" fill="#9a78c8"/>
<circle cx="388.5" cy="350.7" r="1.0" fill="#9a78c8"/>
<polyline points="282.9,344.0 302.2,339.5 311.0,341.0 328.9,349.0 341.7,350.5 363.1,351.5 388.5,351.0" fill="none" stroke="#9a78c8" stroke-width="1.1" stroke-linejoin="round" stroke-linecap="round" />
<circle cx="302.2" cy="339.5" r="1.0" fill="#9a78c8"/>
<circle cx="311.0" cy="341.0" r="1.0" fill="#9a78c8"/>
<circle cx="328.9" cy="349.0" r="1.0" fill="#9a78c8"/>
<circle cx="341.7" cy="350.5" r="1.0" fill="#9a78c8"/>
<circle cx="363.1" cy="351.5" r="1.0" fill="#9a78c8"/>
<circle cx="388.5" cy="351.0" r="1.0" fill="#9a78c8"/>
<polyline points="282.9,343.0 302.2,338.5 317.0,340.0 340.0,346.0 363.0,349.0 388.5,347.2" fill="none" stroke="#151525" stroke-width="1.3" stroke-linejoin="round" stroke-linecap="round" />
<line x1="282.9" y1="319.6" x2="282.9" y2="328.3" stroke="#d42a3c" stroke-width="1.3"/>
<polygon points="280.7,327.8 285.09999999999997,327.8 282.9,334.8" fill="#d42a3c"/>
<text x="281.3" y="316.0" font-size="8.3" text-anchor="start" font-weight="bold" fill="#d42a3c" stroke="#d42a3c" stroke-width="0" textLength="17" lengthAdjust="spacingAndGlyphs">TDB</text>
<polyline points="400.9,342.3 402.8,341.8 404.7,341.3 406.6,340.8 408.5,340.2 410.4,339.6 412.3,338.9 414.2,338.3 416.1,337.5 418.0,336.7 419.9,335.9 421.8,335.0 423.8,334.1 425.7,333.1 427.6,332.1 429.5,330.9 431.4,329.7 433.3,328.5 435.2,327.1 437.1,325.7 439.0,324.1 440.9,322.5 442.8,320.8 444.7,319.0 446.6,317.0 448.5,314.9 450.4,312.7 452.3,310.4 454.2,307.9 456.1,305.2 458.0,302.4 459.9,299.4 461.8,296.2 463.7,292.8 465.6,289.2 467.5,285.4 469.5,281.3 471.4,277.0 473.3,272.4 475.2,267.5 477.1,262.2" fill="none" stroke="#2c3a8a" stroke-width="1.2" stroke-linejoin="round" stroke-linecap="butt" stroke-dasharray="4.5,2,1.2,2"/>
<polyline points="401.0,341.0 417.7,336.0 429.6,328.2 446.9,337.6 459.4,348.0 476.1,349.0 485.8,348.6 505.3,347.4" fill="none" stroke="#2c4a9e" stroke-width="1.0" stroke-linejoin="round" stroke-linecap="round" />
<circle cx="417.7" cy="336.0" r="0.9" fill="#2c4a9e"/>
<circle cx="429.6" cy="328.2" r="0.9" fill="#2c4a9e"/>
<circle cx="446.9" cy="337.6" r="0.9" fill="#2c4a9e"/>
<circle cx="459.4" cy="348.0" r="0.9" fill="#2c4a9e"/>
<circle cx="476.1" cy="349.0" r="0.9" fill="#2c4a9e"/>
<circle cx="485.8" cy="348.6" r="0.9" fill="#2c4a9e"/>
<circle cx="505.3" cy="347.4" r="0.9" fill="#2c4a9e"/>
<polyline points="401.0,342.0 417.7,335.0 429.6,331.0 446.9,340.0 459.4,349.0 476.1,350.0 505.3,348.5" fill="none" stroke="#2c4a9e" stroke-width="1.0" stroke-linejoin="round" stroke-linecap="round" />
<circle cx="417.7" cy="335.0" r="0.9" fill="#2c4a9e"/>
<circle cx="429.6" cy="331.0" r="0.9" fill="#2c4a9e"/>
<circle cx="446.9" cy="340.0" r="0.9" fill="#2c4a9e"/>
<circle cx="459.4" cy="349.0" r="0.9" fill="#2c4a9e"/>
<circle cx="476.1" cy="350.0" r="0.9" fill="#2c4a9e"/>
<circle cx="505.3" cy="348.5" r="0.9" fill="#2c4a9e"/>
<polyline points="401.0,343.0 417.7,337.0 429.6,333.0 446.9,342.0 459.4,349.5 476.1,350.5 505.3,349.0" fill="none" stroke="#2c4a9e" stroke-width="1.0" stroke-linejoin="round" stroke-linecap="round" />
<circle cx="417.7" cy="337.0" r="0.9" fill="#2c4a9e"/>
<circle cx="429.6" cy="333.0" r="0.9" fill="#2c4a9e"/>
<circle cx="446.9" cy="342.0" r="0.9" fill="#2c4a9e"/>
<circle cx="459.4" cy="349.5" r="0.9" fill="#2c4a9e"/>
<circle cx="476.1" cy="350.5" r="0.9" fill="#2c4a9e"/>
<circle cx="505.3" cy="349.0" r="0.9" fill="#2c4a9e"/>
<polyline points="401.0,344.0 417.7,338.5 429.6,336.0 446.9,345.0 459.4,350.4 476.1,351.0 505.3,350.0" fill="none" stroke="#2c4a9e" stroke-width="1.0" stroke-linejoin="round" stroke-linecap="round" />
<circle cx="417.7" cy="338.5" r="0.9" fill="#2c4a9e"/>
<circle cx="429.6" cy="336.0" r="0.9" fill="#2c4a9e"/>
<circle cx="446.9" cy="345.0" r="0.9" fill="#2c4a9e"/>
<circle cx="459.4" cy="350.4" r="0.9" fill="#2c4a9e"/>
<circle cx="476.1" cy="351.0" r="0.9" fill="#2c4a9e"/>
<circle cx="505.3" cy="350.0" r="0.9" fill="#2c4a9e"/>
<polyline points="401.0,345.0 417.7,341.0 429.6,341.0 446.9,347.7 459.4,351.0 476.1,351.2 505.3,351.2" fill="none" stroke="#2c4a9e" stroke-width="1.0" stroke-linejoin="round" stroke-linecap="round" />
<circle cx="417.7" cy="341.0" r="0.9" fill="#2c4a9e"/>
<circle cx="429.6" cy="341.0" r="0.9" fill="#2c4a9e"/>
<circle cx="446.9" cy="347.7" r="0.9" fill="#2c4a9e"/>
<circle cx="459.4" cy="351.0" r="0.9" fill="#2c4a9e"/>
<circle cx="476.1" cy="351.2" r="0.9" fill="#2c4a9e"/>
<circle cx="505.3" cy="351.2" r="0.9" fill="#2c4a9e"/>
<polyline points="401.0,346.0 417.7,343.0 429.6,342.0 446.9,346.0 459.4,350.0 505.3,350.0" fill="none" stroke="#2c4a9e" stroke-width="1.0" stroke-linejoin="round" stroke-linecap="round" />
<circle cx="417.7" cy="343.0" r="0.9" fill="#2c4a9e"/>
<circle cx="429.6" cy="342.0" r="0.9" fill="#2c4a9e"/>
<circle cx="446.9" cy="346.0" r="0.9" fill="#2c4a9e"/>
<circle cx="459.4" cy="350.0" r="0.9" fill="#2c4a9e"/>
<circle cx="505.3" cy="350.0" r="0.9" fill="#2c4a9e"/>
<polyline points="401.0,342.5 417.7,335.5 425.0,333.0 440.0,336.0 452.0,343.0 459.4,349.0 505.3,347.5" fill="none" stroke="#2c4a9e" stroke-width="1.0" stroke-linejoin="round" stroke-linecap="round" />
<circle cx="417.7" cy="335.5" r="0.9" fill="#2c4a9e"/>
<circle cx="425.0" cy="333.0" r="0.9" fill="#2c4a9e"/>
<circle cx="440.0" cy="336.0" r="0.9" fill="#2c4a9e"/>
<circle cx="452.0" cy="343.0" r="0.9" fill="#2c4a9e"/>
<circle cx="459.4" cy="349.0" r="0.9" fill="#2c4a9e"/>
<circle cx="505.3" cy="347.5" r="0.9" fill="#2c4a9e"/>
<polyline points="401.0,343.5 417.7,338.0 429.6,338.0 446.9,343.0 459.4,350.0 476.0,350.0 505.3,349.5" fill="none" stroke="#2c4a9e" stroke-width="1.0" stroke-linejoin="round" stroke-linecap="round" />
<circle cx="417.7" cy="338.0" r="0.9" fill="#2c4a9e"/>
<circle cx="429.6" cy="338.0" r="0.9" fill="#2c4a9e"/>
<circle cx="446.9" cy="343.0" r="0.9" fill="#2c4a9e"/>
<circle cx="459.4" cy="350.0" r="0.9" fill="#2c4a9e"/>
<circle cx="476.0" cy="350.0" r="0.9" fill="#2c4a9e"/>
<circle cx="505.3" cy="349.5" r="0.9" fill="#2c4a9e"/>
<polyline points="401.0,343.5 417.7,338.5 429.6,336.0 446.9,344.0 459.4,349.5 476.1,350.5 505.3,350.0" fill="none" stroke="#0f1a40" stroke-width="1.4" stroke-linejoin="round" stroke-linecap="round" />
<line x1="401.4" y1="301.5" x2="401.4" y2="310.2" stroke="#2c4a9e" stroke-width="1.3"/>
<polygon points="399.2,309.7 403.59999999999997,309.7 401.4,314.7" fill="#2c4a9e"/>
<line x1="422.9" y1="301.5" x2="422.9" y2="310.2" stroke="#2c4a9e" stroke-width="1.3"/>
<polygon points="420.7,309.7 425.09999999999997,309.7 422.9,314.7" fill="#2c4a9e"/>
<line x1="443.8" y1="301.5" x2="443.8" y2="310.2" stroke="#2c4a9e" stroke-width="1.3"/>
<polygon points="441.6,309.7 446.0,309.7 443.8,314.7" fill="#2c4a9e"/>
<line x1="401.4" y1="319.4" x2="401.4" y2="325.7" stroke="#d42a3c" stroke-width="1.3"/>
<polygon points="399.2,325.2 403.59999999999997,325.2 401.4,332.2" fill="#d42a3c"/>
</svg></body></html>
